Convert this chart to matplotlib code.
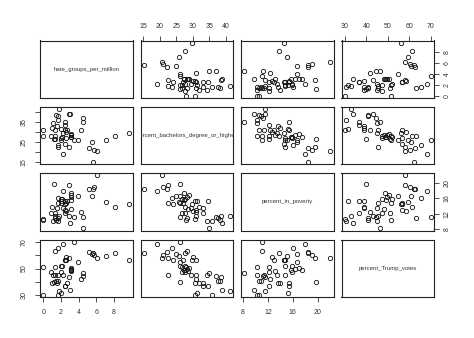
import matplotlib
matplotlib.use("Agg")
import matplotlib.pyplot as plt

# one entry per US state (alphabetical), values
states = ["AL", "AK", "AZ", "AR", "CA", "CO", "CT", "DE", "FL", "GA",
          "HI", "ID", "IL", "IN", "IA", "KS", "KY", "LA", "ME", "MD",
          "MA", "MI", "MN", "MS", "MO", "MT", "NE", "NV", "NH", "NJ",
          "NM", "NY", "NC", "ND", "OH", "OK", "OR", "PA", "RI", "SC",
          "SD", "TN", "TX", "UT", "VT", "VA", "WA", "WV", "WI", "WY"]

hate_groups_per_million = [5.6, 0.0, 3.1, 5.7, 2.0, 2.9, 1.4, 4.2, 3.1, 3.1,
                           0.0, 7.1, 1.5, 2.4, 1.3, 2.4, 5.2, 2.9, 2.2, 3.0,
                           1.8, 2.0, 1.1, 6.1, 2.5, 9.7, 2.6, 1.7, 4.5, 1.6,
                           1.2, 2.4, 3.1, 1.3, 2.0, 1.6, 2.7, 3.1, 1.0, 3.9,
                           8.1, 5.5, 2.1, 1.3, 1.6, 4.5, 2.4, 2.2, 0.9, 3.5]

percent_bachelors_degree_or_higher = [15.2, 28.0, 27.5, 21.1, 31.4, 38.7, 38.3, 30.9, 27.3, 28.8,
                                      30.8, 25.9, 33.0, 24.1, 26.7, 31.0, 22.3, 22.5, 29.6, 38.8,
                                      41.2, 26.9, 34.3, 20.7, 27.1, 29.7, 30.2, 22.4, 35.1, 37.6,
                                      26.3, 34.7, 28.4, 28.2, 26.1, 23.8, 30.8, 28.6, 32.0, 26.0,
                                      27.8, 24.9, 27.6, 31.1, 36.0, 37.0, 33.2, 19.2, 27.8, 26.2]

percent_in_poverty = [18.5, 10.3, 17.4, 19.1, 15.3, 11.5, 10.5, 12.4, 15.7, 17.0,
                      10.6, 15.1, 13.6, 14.5, 12.2, 13.0, 18.5, 19.6, 13.4, 9.7,
                      11.5, 15.8, 10.2, 22.0, 14.8, 14.6, 12.6, 14.7, 8.2, 10.8,
                      19.7, 15.4, 16.4, 11.0, 14.8, 16.1, 15.4, 13.2, 13.9, 16.6,
                      13.7, 16.7, 15.9, 11.3, 10.2, 11.2, 12.2, 17.9, 12.1, 11.1]

percent_Trump_votes = [62.1, 51.3, 48.7, 60.6, 31.6, 43.3, 40.9, 41.9, 49.0, 50.8,
                       30.0, 59.3, 38.8, 56.8, 51.1, 56.7, 62.5, 58.1, 44.9, 33.9,
                       32.8, 47.5, 44.9, 57.9, 56.8, 56.2, 58.7, 45.5, 46.5, 41.0,
                       40.0, 36.5, 49.8, 63.0, 51.7, 65.3, 39.1, 48.2, 38.9, 54.9,
                       61.5, 60.7, 52.2, 45.5, 30.3, 44.4, 36.8, 68.5, 47.2, 70.0]

var_names = ["hate_groups_per_million", "percent_bachelors_degree_or_higher",
             "percent_in_poverty", "percent_Trump_votes"]
var_ticks = [[0, 2, 4, 6, 8], [15, 20, 25, 30, 35, 40],
             [8, 12, 16, 20], [30, 40, 50, 60, 70]]
left_tick_labels = {1: [15, 25, 35], 3: [30, 50, 70]}

data = [hate_groups_per_million, percent_bachelors_degree_or_higher,
        percent_in_poverty, percent_Trump_votes]

plt.rcParams["font.family"] = ["Liberation Sans", "DejaVu Sans"]

W, H = 474, 338
fig = plt.figure(figsize=(W / 100, H / 100), dpi=100)
col_left = [40, 140.5, 241, 341.5]
row_top = [40.5, 107, 173.3, 240]
pw, ph = 92.5, 57.2

def lims(v):
    lo, hi = min(v), max(v)
    r = hi - lo
    return lo - 0.04 * r, hi + 0.04 * r

tick_col = "#333333"
for i in range(4):
    for j in range(4):
        ax = fig.add_axes([col_left[j] / W, 1 - (row_top[i] + ph) / H, pw / W, ph / H])
        ax.set_xlim(*lims(data[j]))
        ax.set_ylim(*lims(data[i]))
        for s in ax.spines.values():
            s.set_linewidth(0.8)
            s.set_color("#222222")
        ax.tick_params(which="both", top=False, bottom=False, left=False, right=False,
                       labeltop=False, labelbottom=False, labelleft=False, labelright=False,
                       length=3.4, width=0.6, color="#333333", labelsize=5.0,
                       labelcolor=tick_col)
        if i == j:
            ax.text(0.5, 0.5, var_names[i], transform=ax.transAxes, ha="center",
                    va="center", fontsize=4.3, color="#333333", clip_on=True)
            ax.set_xticks([])
            ax.set_yticks([])
            continue
        ax.plot(data[j], data[i], linestyle="none", marker="o", markersize=3.1,
                markerfacecolor="none", markeredgecolor="#111111", markeredgewidth=0.6)
        ax.set_xticks(var_ticks[j])
        ax.set_yticks(var_ticks[i])
        if i == 0 and j % 2 == 1:
            ax.tick_params(axis="x", top=True, labeltop=True, pad=4.4)
        if i == 3 and j % 2 == 0:
            ax.tick_params(axis="x", bottom=True, labelbottom=True, pad=5.4)
        if j == 0 and i % 2 == 1:
            labs = [str(t) if t in left_tick_labels[i] else "" for t in var_ticks[i]]
            ax.set_yticklabels(labs, rotation=90, va="center")
            ax.tick_params(axis="y", left=True, labelleft=True, pad=5.6)
        if j == 3 and i % 2 == 0:
            ax.set_yticklabels([str(t) for t in var_ticks[i]], rotation=90, va="center")
            ax.tick_params(axis="y", right=True, labelright=True, pad=3.6)

fig.savefig("out.png", dpi=100)
